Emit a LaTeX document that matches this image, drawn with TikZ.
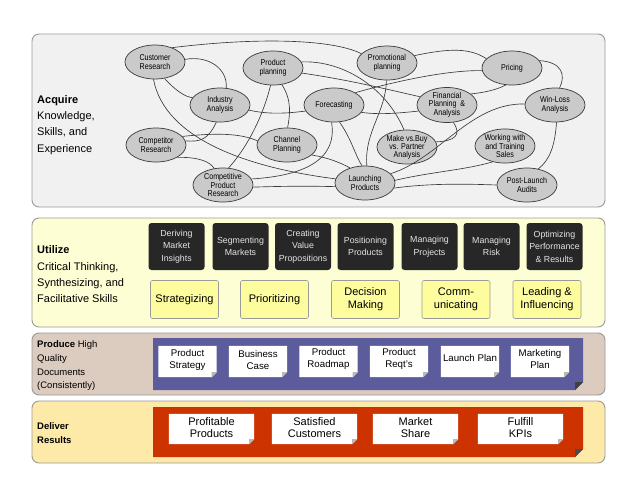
\documentclass[tikz,border=0pt]{standalone}
\usepackage{fontspec}
\setmainfont{Liberation Sans}
\newfontfamily\narrowfont[FakeStretch=0.84]{Liberation Sans}
\usetikzlibrary{shapes.geometric}
\definecolor{panelA}{HTML}{F1F1F1}
\definecolor{panelB}{HTML}{FEFED4}
\definecolor{panelC}{HTML}{DCCBBF}
\definecolor{panelD}{HTML}{FDEAA8}
\definecolor{panelline}{HTML}{9A9A9A}
\definecolor{ellfill}{HTML}{CACACA}
\definecolor{ellline}{HTML}{3A3A3A}
\definecolor{darkbox}{HTML}{272727}
\definecolor{softbox}{HTML}{FDFD9E}
\definecolor{blueband}{HTML}{5C5C9C}
\definecolor{redband}{HTML}{CC3300}
\definecolor{foldgrey}{HTML}{B8B8B8}
\tikzset{
  panel/.style={draw=panelline, line width=0.9pt, rounded corners=7pt},
  ell/.style={ellipse, draw=ellline, fill=ellfill, line width=0.7pt, minimum width=60pt, minimum height=34pt, inner sep=0pt, align=center, font=\narrowfont\fontsize{8.5}{8.6}\selectfont},
  ell3/.style={ell, font=\narrowfont\fontsize{8.5}{7.9}\selectfont},
  edge/.style={draw=ellline, line width=0.65pt},
  lefttext/.style={anchor=base west, inner sep=0pt, font=\fontsize{11}{13}\selectfont},
  smalltext/.style={anchor=base west, inner sep=0pt, font=\fontsize{9.5}{11}\selectfont},
  skillbox/.style={fill=darkbox, rounded corners=3pt, minimum width=56pt, minimum height=47pt, inner sep=0pt, text=white!90!black, align=center, font=\fontsize{8.8}{12.5}\selectfont},
  softskill/.style={fill=softbox, draw=panelline, line width=0.6pt, rounded corners=2pt, minimum width=68pt, minimum height=38pt, inner sep=0pt, align=center, font=\fontsize{11}{13}\selectfont},
  docbox/.style={minimum width=58pt, minimum height=31pt, inner sep=0pt, align=center, font=\fontsize{9.7}{12}\selectfont},
  resbox/.style={minimum width=85pt, minimum height=30pt, inner sep=0pt, align=center, font=\fontsize{11}{11.5}\selectfont},
}
\newcommand{\paperfold}[1]{%
  \fill[white] (#1.north west) -- (#1.north east) -- ([yshift=5pt]#1.south east) -- ([xshift=-5pt]#1.south east) -- (#1.south west) -- cycle;
  \fill[foldgrey] ([yshift=5pt]#1.south east) -- ([xshift=-5pt]#1.south east) -- ([xshift=-5pt,yshift=5pt]#1.south east) -- cycle;
}
\begin{document}
\begin{tikzpicture}[x=1pt,y=-1pt]
\useasboundingbox (0,0) rectangle (638,493);
\fill[white] (0,0) rectangle (638,493);

% ---------- panels ----------
\draw[panel, fill=panelA] (32,34) rectangle (605,207);
\draw[panel, fill=panelB] (32,218) rectangle (605,327);
\draw[panel, fill=panelC] (32,333) rectangle (605,395);
\draw[panel, fill=panelD] (32,401) rectangle (605,463);

% ---------- panel 1 text ----------
\node[lefttext] (t1a) at (37,103) {\textbf{Acquire}};
\node[lefttext] (t1b) at (37,119.3) {Knowledge,};
\node[lefttext] (t1c) at (37,135.6) {Skills, and};
\node[lefttext] (t1d) at (37,152) {Experience};

% ---------- ellipses ----------
\node[ell] (cr)  at (155,62)  {Customer\\Research};
\node[ell] (pp)  at (273,68)  {Product\\planning};
\node[ell] (ia)  at (220,105) {Industry\\Analysis};
\node[ell] (co)  at (156,145) {Competitor\\Research};
\node[ell] (ch)  at (287,145) {Channel\\Planning};
\node[ell3] (cpr) at (223,185) {Competitive\\Product\\Research};
\node[ell] (fc)  at (334,105) {Forecasting};
\node[ell] (pr)  at (387,63)  {Promotional\\planning};
\node[ell3] (fpa) at (447,105) {Financial\\Planning\ \ \&\\Analysis};
\node[ell3] (mb)  at (407,147) {Make vs.Buy\\vs. Partner\\Analysis};
\node[ell] (lp)  at (365,183) {Launching\\Products};
\node[ell] (pc)  at (512,68)  {Pricing};
\node[ell] (wl)  at (555,105) {Win-Loss\\Analysis};
\node[ell3] (ws)  at (505,146) {Working with\\and Training\\Sales};
\node[ell] (pla) at (527,185) {Post-Launch\\Audits};

% ---------- connectors ----------
\draw[edge] (cr.40) .. controls (250,38) and (330,38) .. (pr.160);
\draw[edge] (pr.15) .. controls (450,48) and (470,48) .. (pc.160);
\draw[edge] (cr.300) .. controls (175,90) and (185,97) .. (ia.165);
\draw[edge] (cr.5) .. controls (210,55) and (228,70) .. (ia.70);
\draw[edge] (cr.265) .. controls (165,140) and (250,168) .. (lp.172);
\draw[edge] (pp.262) .. controls (262,120) and (245,150) .. (cpr.72);
\draw[edge] (pp.298) .. controls (292,100) and (290,115) .. (ch.88);
\draw[edge] (pp.12) .. controls (340,60) and (385,85) .. (mb.100);
\draw[edge] (pp.350) .. controls (350,80) and (390,90) .. (fpa.163);
\draw[edge] (ia.350) .. controls (270,115) and (290,113) .. (fc.192);
\draw[edge] (ia.258) .. controls (208,140) and (200,142) .. (co.8);
\draw[edge] (co.330) .. controls (200,157) and (210,162) .. (cpr.118);
\draw[edge] (co.18) .. controls (215,133) and (240,133) .. (ch.172);
\draw[edge] (cpr.12) .. controls (300,176) and (338,162) .. (fc.262);
\draw[edge] (cpr.356) .. controls (290,186) and (310,186) .. (lp.187);
\draw[edge] (ch.338) .. controls (330,158) and (343,164) .. (lp.135);
\draw[edge] (fc.288) .. controls (352,140) and (355,155) .. (lp.100);
\draw[edge] (pr.268) .. controls (386,112) and (364,132) .. (lp.84);
\draw[edge] (fc.30) .. controls (400,80) and (450,70) .. (pc.185);
\draw[edge] (fc.345) .. controls (380,115) and (400,113) .. (fpa.192);
\draw[edge] (fpa.25) .. controls (490,92) and (500,88) .. (pc.250);
\draw[edge] (fpa.290) .. controls (462,135) and (455,141) .. (mb.10);
\draw[edge] (lp.20) .. controls (440,158) and (470,103) .. (wl.178);
\draw[edge] (lp.5) .. controls (430,172) and (465,170) .. (ws.232);
\draw[edge] (lp.350) .. controls (430,183) and (470,184) .. (pla.180);
\draw[edge] (pc.15) .. controls (562,62) and (566,75) .. (wl.75);
\draw[edge] (wl.275) .. controls (555,145) and (550,160) .. (pla.55);

% ---------- panel 2 ----------
\node[lefttext] (t2a) at (37,253) {\textbf{Utilize}};
\node[lefttext] (t2b) at (37,270) {Critical Thinking,};
\node[lefttext] (t2c) at (37,286) {Synthesizing, and};
\node[lefttext] (t2d) at (37,302) {Facilitative Skills};

\node[skillbox] (s1) at (176.5,246.5) {Deriving\\Market\\Insights};
\node[skillbox] (s2) at (240.5,246.5) {Segmenting\\Markets};
\node[skillbox] (s3) at (303,246.5) {Creating\\Value\\Propositions};
\node[skillbox] (s4) at (365.5,246.5) {Positioning\\Products};
\node[skillbox] (s5) at (429.5,246.5) {Managing\\Projects};
\node[skillbox] (s6) at (491.5,246.5) {Managing\\Risk};
\node[skillbox] (s7) at (554.5,246.5) {Optimizing\\Performance\\\&\ Results};

\node[softskill] (y1) at (184.5,299.5) {Strategizing};
\node[softskill] (y2) at (274.5,299.5) {Prioritizing};
\node[softskill] (y3) at (365.5,299.5) {Decision\\Making};
\node[softskill] (y4) at (456,299.5) {Comm-\\unicating};
\node[softskill] (y5) at (547,299.5) {Leading \&\\Influencing};

% ---------- panel 3 ----------
\node[smalltext] (t3a) at (37,347.5) {\textbf{Produce} High};
\node[smalltext] (t3b) at (37,361.5) {Quality};
\node[smalltext] (t3c) at (37,375.5) {Documents};
\node[smalltext] (t3d) at (37,388.5) {(Consistently)};

\fill[blueband] (153,338) -- (583,338) -- (583,382) -- (575,390) -- (153,390) -- cycle;
\fill[black!75] (583,382) -- (575,390) -- (575,382) -- cycle;

\node[docbox] (d1) at (187.5,361.5) {};
\node[docbox] (d2) at (258,361.5) {};
\node[docbox] (d3) at (328.5,361.5) {};
\node[docbox] (d4) at (399,361.5) {};
\node[docbox] (d5) at (470,361.5) {};
\node[docbox] (d6) at (540,361.5) {};
\foreach \n in {d1,d2,d3,d4,d5,d6} {\paperfold{\n}}
\node[docbox] (d1t) at (187.5,360) {Product\\Strategy};
\node[docbox] (d2t) at (258,360) {Business\\Case};
\node[docbox] (d3t) at (328.5,359) {Product\\Roadmap};
\node[docbox] (d4t) at (399,359) {Product\\Reqt's};
\node[docbox] (d5t) at (470,358) {Launch Plan};
\node[docbox] (d6t) at (540,359) {Marketing\\Plan};

% ---------- panel 4 ----------
\node[smalltext] (t4a) at (37,429.5) {\textbf{Deliver}};
\node[smalltext] (t4b) at (37,443) {\textbf{Results}};

\fill[redband] (153,407) -- (583,407) -- (583,449) -- (575,457) -- (153,457) -- cycle;
\fill[black!70] (583,449) -- (575,457) -- (575,449) -- cycle;

\node[resbox] (r1) at (211.5,429) {};
\node[resbox] (r2) at (314.5,429) {};
\node[resbox] (r3) at (415.5,429) {};
\node[resbox] (r4) at (520.5,429) {};
\foreach \n in {r1,r2,r3,r4} {\paperfold{\n}}
\node[resbox] (r1t) at (211.5,427.5) {Profitable\\Products};
\node[resbox] (r2t) at (314.5,427.5) {Satisfied\\Customers};
\node[resbox] (r3t) at (415.5,427.5) {Market\\Share};
\node[resbox] (r4t) at (520.5,427.5) {Fulfill\\KPIs};
\end{tikzpicture}
\end{document}
